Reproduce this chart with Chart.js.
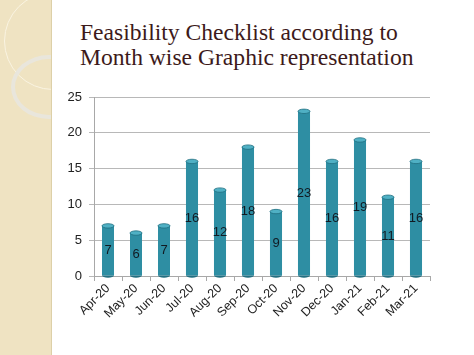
<!DOCTYPE html>
<html><head><meta charset="utf-8">
<script src="https://cdn.jsdelivr.net/npm/chart.js@4"></script>
<style>
html,body{margin:0;padding:0;background:#fff;width:474px;height:355px;overflow:hidden;position:relative;}
#strip{position:absolute;left:0;top:0;width:51px;height:355px;background:#efe3c2;border-right:1px solid #ddd0a8;overflow:hidden;}
.c1{position:absolute;left:4px;top:-8px;width:96px;height:96px;border-radius:50%;border:1px solid #faf4e2;}
.c2{position:absolute;left:11px;top:55px;width:68px;height:56px;border-radius:50%;border:4px solid #e9e6dc;}
#title{position:absolute;left:80px;top:20px;font-family:"Liberation Serif","Times New Roman",serif;font-size:23.6px;line-height:25px;color:#3d1a1a;white-space:nowrap;}
#wrap{position:absolute;left:0;top:0;width:474px;height:355px;}
</style></head>
<body>
<div id="strip"><div class="c1"></div><div class="c2"></div></div>
<div id="title">Feasibility Checklist according to<br>Month wise Graphic representation</div>
<div id="wrap"><canvas id="c" width="474" height="355"></canvas></div>
<script>
const categories = ["Apr-20","May-20","Jun-20","Jul-20","Aug-20","Sep-20","Oct-20","Nov-20","Dec-20","Jan-21","Feb-21","Mar-21"];
const values = [7,6,7,16,12,18,9,23,16,19,11,16];
const yTicks = [0,5,10,15,20,25];

const capPlugin = {
  id:'caps',
  afterDatasetsDraw(chart){
    const ctx = chart.ctx;
    const meta = chart.getDatasetMeta(0);
    meta.data.forEach((bar,i)=>{
      const w = bar.width, x = bar.x;
      ctx.save();
      ctx.beginPath();
      ctx.ellipse(x, bar.base, w/2, 2.2, 0, 0, Math.PI);
      ctx.fillStyle = '#236f81';
      ctx.fill();
      ctx.beginPath();
      ctx.ellipse(x, bar.y, w/2, 2.2, 0, 0, Math.PI*2);
      ctx.fillStyle = '#4fb0c4';
      ctx.fill();
      ctx.strokeStyle = '#1f6e80';
      ctx.lineWidth = 0.8;
      ctx.stroke();
      ctx.fillStyle = '#111a22';
      ctx.font = '13px "Liberation Sans", Arial, sans-serif';
      ctx.textAlign = 'center';
      ctx.textBaseline = 'middle';
      ctx.fillText(String(values[i]), x, (bar.y + bar.base)/2);
      ctx.restore();
    });
  }
};

function barGrad(context){
  const chart = context.chart;
  const el = context.element;
  if(!el || !isFinite(el.x) || !isFinite(el.width) || el.width <= 0) return '#2e8ea3';
  const x = el.x, w = el.width;
  const g = chart.ctx.createLinearGradient(x - w/2, 0, x + w/2, 0);
  g.addColorStop(0, '#1f6f82');
  g.addColorStop(0.3, '#3aa0b6');
  g.addColorStop(0.55, '#2f8fa5');
  g.addColorStop(1, '#1c6476');
  return g;
}

new Chart(document.getElementById('c'), {
  type:'bar',
  data:{labels:categories, datasets:[{data:values, backgroundColor:barGrad, borderWidth:0, barPercentage:0.43, categoryPercentage:1.0}]},
  options:{
    responsive:false, animation:false,
    layout:{padding:{left:0, right:44, top:97, bottom:0}},
    plugins:{legend:{display:false}, tooltip:{enabled:false}},
    scales:{
      x:{
        grid:{display:true, drawOnChartArea:false, drawTicks:true, tickLength:5, color:'#a8a8a8', offset:true},
        border:{display:true, color:'#a8a8a8'},
        ticks:{color:'#222', font:{family:'"Liberation Sans", Arial, sans-serif', size:12.5}, maxRotation:45, minRotation:45, padding:0, autoSkip:false},
        afterFit(s){ s.height = 79; }
      },
      y:{
        min:0, max:25,
        afterBuildTicks(s){ s.ticks = yTicks.map(v=>({value:v})); },
        grid:{color:'#b8b8b8', tickLength:5, lineWidth:1},
        border:{display:true, color:'#a8a8a8'},
        ticks:{color:'#222', font:{family:'"Liberation Sans", Arial, sans-serif', size:13}, padding:7},
        afterFit(s){ s.width = 94; }
      }
    }
  },
  plugins:[capPlugin]
});
</script>
</body></html>
